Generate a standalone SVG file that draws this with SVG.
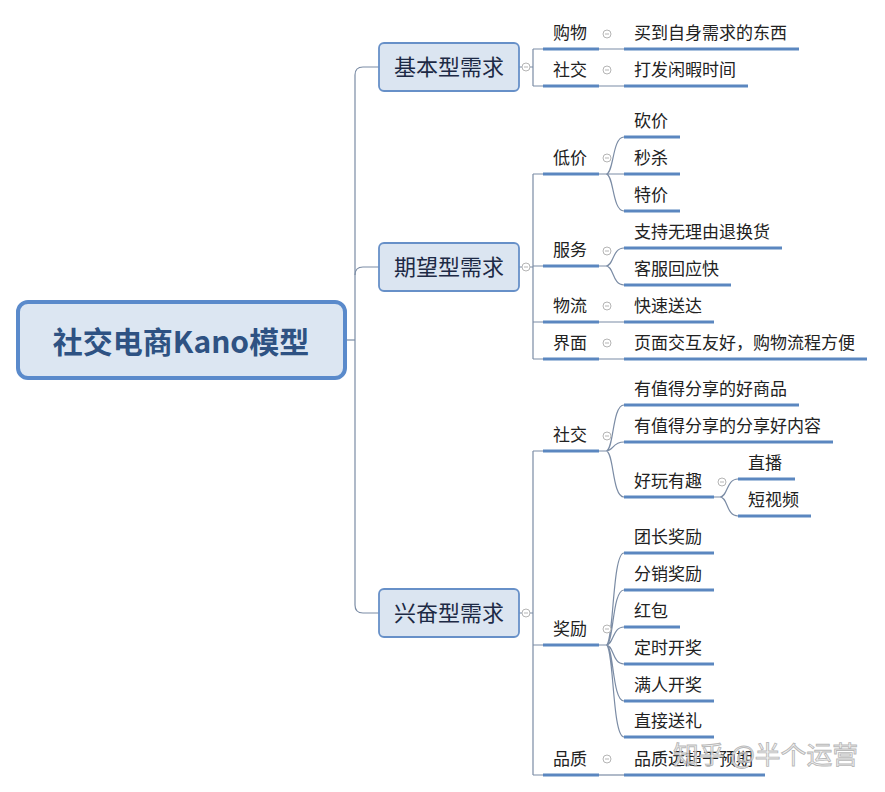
<svg xmlns="http://www.w3.org/2000/svg" width="885" height="792" viewBox="0 0 885 792">
<style>
.conn{fill:none;stroke:#7b8ca5;stroke-width:1.2}
.ul{stroke:#5b87c0;stroke-width:3}
.t{font-family:"Noto Sans CJK SC","Microsoft YaHei",sans-serif;font-size:17px;fill:#222}
.br rect{fill:#dbe5f1;stroke:#6790c8;stroke-width:1.8}
.br text{font-family:"Noto Sans CJK SC","Microsoft YaHei",sans-serif;font-size:22px;fill:#1d2a45;text-anchor:middle}
</style>
<defs>
<g id="c"><circle r="4" fill="#fff" stroke="#b5b5b5" stroke-width="1"/><line x1="-2" y1="0" x2="2" y2="0" stroke="#b5b5b5" stroke-width="1"/></g>
</defs>
<rect width="885" height="792" fill="#fff"/>

<g id="connectors" class="conn">
<path d="M346,340 L355,340"/>
<path d="M380,67 L363,67 Q355,67 355,75 L355,605 Q355,613 363,613 L380,613"/>
<path d="M355,275 Q355,267 363,267 L380,267"/>
<path d="M519,67 L533,67 M533,49 L533,86 M533,49 L543,49 M533,86 L543,86"/>
<path d="M599,49 L624,49 M599,86 L624,86"/>
<path d="M519,267 L533,267 M533,174 L533,359 M533,174 L543,174 M533,266 L543,266 M533,322 L543,322 M533,359 L543,359"/>
<path d="M599,174 L624,174 M606,174 C614,174 612,137 624,137 M606,174 C614,174 612,211 624,211"/>
<path d="M599,266 L606,266 C614,266 612,248 624,248 M606,266 C614,266 612,285 624,285"/>
<path d="M599,322 L624,322 M599,359 L624,359"/>
<path d="M519,613 L533,613 M533,451 L533,775 M533,451 L543,451 M533,645 L543,645 M533,775 L543,775"/>
<path d="M599,451 L606,451 C614,451 612,405 624,405 M606,451 C614,451 612,442 624,442 M606,451 C614,451 612,497 624,497"/>
<path d="M714,497 L720,497 C728,497 726,479 738,479 M720,497 C728,497 726,516 738,516"/>
<path d="M599,645 L606,645 C614,645 612,553 624,553 M606,645 C614,645 612,590 624,590 M606,645 C614,645 612,627 624,627 M606,645 C614,645 612,664 624,664 M606,645 C614,645 612,701 624,701 M606,645 C614,645 612,737 624,737"/>
<path d="M599,775 L624,775"/>
</g>

<g id="root">
<rect x="18" y="302" width="327" height="76" rx="10" fill="#dce6f2" stroke="#5a8acb" stroke-width="4"/>
<text x="181" y="353" text-anchor="middle" font-family="'Noto Sans CJK SC','Microsoft YaHei',sans-serif" font-size="30" font-weight="bold" fill="#2e5283">社交电商Kano模型</text>
</g>

<g id="branch-basic" class="br"><rect x="379" y="43" width="140" height="48" rx="5"/><text x="449" y="75">基本型需求</text></g>
<g id="branch-expected" class="br"><rect x="379" y="243" width="140" height="48" rx="5"/><text x="449" y="275">期望型需求</text></g>
<g id="branch-excited" class="br"><rect x="379" y="589" width="140" height="48" rx="5"/><text x="449" y="621">兴奋型需求</text></g>

<g id="collapse-icons">
<use href="#c" x="526" y="67"/><use href="#c" x="526" y="267"/><use href="#c" x="526" y="613"/>
<use href="#c" x="607" y="34"/><use href="#c" x="607" y="70"/>
<use href="#c" x="607" y="158"/><use href="#c" x="607" y="251"/><use href="#c" x="607" y="306"/><use href="#c" x="607" y="343"/>
<use href="#c" x="607" y="436"/><use href="#c" x="607" y="629"/><use href="#c" x="607" y="759"/>
<use href="#c" x="722" y="482"/>
</g>

<g id="n-gouwu"><line class="ul" x1="543" y1="49" x2="599" y2="49"/><text class="t" x="553" y="39">购物</text></g>
<g id="n-shejiao1"><line class="ul" x1="543" y1="86" x2="599" y2="86"/><text class="t" x="553" y="76">社交</text></g>
<g id="n-dijia"><line class="ul" x1="543" y1="174" x2="599" y2="174"/><text class="t" x="553" y="164">低价</text></g>
<g id="n-fuwu"><line class="ul" x1="543" y1="266" x2="599" y2="266"/><text class="t" x="553" y="256">服务</text></g>
<g id="n-wuliu"><line class="ul" x1="543" y1="322" x2="599" y2="322"/><text class="t" x="553" y="312">物流</text></g>
<g id="n-jiemian"><line class="ul" x1="543" y1="359" x2="599" y2="359"/><text class="t" x="553" y="349">界面</text></g>
<g id="n-shejiao2"><line class="ul" x1="543" y1="451" x2="599" y2="451"/><text class="t" x="553" y="441">社交</text></g>
<g id="n-jiangli"><line class="ul" x1="543" y1="645" x2="599" y2="645"/><text class="t" x="553" y="635">奖励</text></g>
<g id="n-pinzhi"><line class="ul" x1="543" y1="775" x2="599" y2="775"/><text class="t" x="553" y="765">品质</text></g>

<g id="n-l3-1"><line class="ul" x1="624" y1="49" x2="799" y2="49"/><text class="t" x="634" y="39">买到自身需求的东西</text></g>
<g id="n-l3-2"><line class="ul" x1="624" y1="86" x2="748" y2="86"/><text class="t" x="634" y="76">打发闲暇时间</text></g>
<g id="n-l3-3"><line class="ul" x1="624" y1="137" x2="680" y2="137"/><text class="t" x="634" y="127">砍价</text></g>
<g id="n-l3-4"><line class="ul" x1="624" y1="174" x2="680" y2="174"/><text class="t" x="634" y="164">秒杀</text></g>
<g id="n-l3-5"><line class="ul" x1="624" y1="211" x2="680" y2="211"/><text class="t" x="634" y="201">特价</text></g>
<g id="n-l3-6"><line class="ul" x1="624" y1="248" x2="782" y2="248"/><text class="t" x="634" y="238">支持无理由退换货</text></g>
<g id="n-l3-7"><line class="ul" x1="624" y1="285" x2="731" y2="285"/><text class="t" x="634" y="275">客服回应快</text></g>
<g id="n-l3-8"><line class="ul" x1="624" y1="322" x2="714" y2="322"/><text class="t" x="634" y="312">快速送达</text></g>
<g id="n-l3-9"><line class="ul" x1="624" y1="359" x2="867" y2="359"/><text class="t" x="634" y="349">页面交互友好，购物流程方便</text></g>
<g id="n-l3-10"><line class="ul" x1="624" y1="405" x2="799" y2="405"/><text class="t" x="634" y="395">有值得分享的好商品</text></g>
<g id="n-l3-11"><line class="ul" x1="624" y1="442" x2="833" y2="442"/><text class="t" x="634" y="432">有值得分享的分享好内容</text></g>
<g id="n-l3-12"><line class="ul" x1="624" y1="497" x2="714" y2="497"/><text class="t" x="634" y="487">好玩有趣</text></g>
<g id="n-l4-1"><line class="ul" x1="738" y1="479" x2="795" y2="479"/><text class="t" x="748" y="469">直播</text></g>
<g id="n-l4-2"><line class="ul" x1="738" y1="516" x2="811" y2="516"/><text class="t" x="748" y="506">短视频</text></g>
<g id="n-l3-13"><line class="ul" x1="624" y1="553" x2="714" y2="553"/><text class="t" x="634" y="543">团长奖励</text></g>
<g id="n-l3-14"><line class="ul" x1="624" y1="590" x2="714" y2="590"/><text class="t" x="634" y="580">分销奖励</text></g>
<g id="n-l3-15"><line class="ul" x1="624" y1="627" x2="680" y2="627"/><text class="t" x="634" y="617">红包</text></g>
<g id="n-l3-16"><line class="ul" x1="624" y1="664" x2="714" y2="664"/><text class="t" x="634" y="654">定时开奖</text></g>
<g id="n-l3-17"><line class="ul" x1="624" y1="701" x2="714" y2="701"/><text class="t" x="634" y="691">满人开奖</text></g>
<g id="n-l3-18"><line class="ul" x1="624" y1="737" x2="714" y2="737"/><text class="t" x="634" y="727">直接送礼</text></g>
<g id="n-l3-19"><line class="ul" x1="624" y1="775" x2="765" y2="775"/><text class="t" x="634" y="765">品质远超于预期</text></g>

<text x="673" y="764" font-family="'Noto Sans CJK SC','Microsoft YaHei',sans-serif" font-size="25" fill="#f2f2f2" fill-opacity="0.75" stroke="#a8a8a8" stroke-width="0.9" stroke-opacity="0.8" textLength="185" lengthAdjust="spacingAndGlyphs">知乎 @半个运营</text>
</svg>
